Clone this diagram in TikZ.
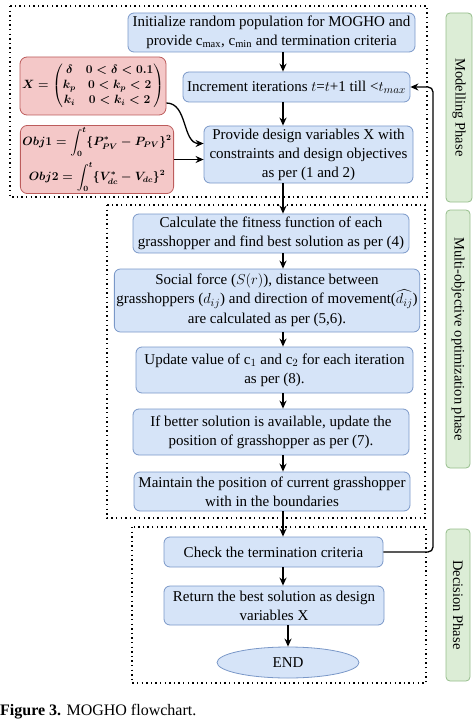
\documentclass[tikz,border=0pt]{standalone}
\usepackage{amsmath}
\usepackage{fontspec}
\setmainfont{Liberation Serif}
\usetikzlibrary{arrows.meta,shapes.geometric}
\definecolor{boxblue}{RGB}{214,228,248}
\definecolor{lineblue}{RGB}{122,152,200}
\definecolor{boxred}{RGB}{244,200,200}
\definecolor{linered}{RGB}{188,92,92}
\definecolor{boxgreen}{RGB}{220,237,214}
\definecolor{linegreen}{RGB}{150,190,140}

\begin{document}
\begin{tikzpicture}[
    x=1pt, y=-1pt,
    blk/.style={draw=lineblue, fill=boxblue, rounded corners=6pt,
                line width=0.8pt, align=center, inner sep=2pt,
                font=\fontsize{15}{19}\selectfont},
    eqbox/.style={draw=linered, fill=boxred, rounded corners=7pt,
                  line width=0.8pt, align=center, inner sep=2pt,
                  font=\fontsize{12}{15}\selectfont\boldmath},
    phase/.style={draw=linegreen, fill=boxgreen, rounded corners=4pt,
                  line width=0.8pt, rotate=-90, inner sep=1pt,
                  font=\fontsize{14.5}{16}\selectfont},
    frame/.style={line width=1.4pt, dash pattern=on 1.4pt off 3.2pt},
    flow/.style={line width=1.3pt, -{Stealth[length=8pt,width=7pt]}}
]
\useasboundingbox (0,0) rectangle (474,722);

% ---------- phase frames ----------
\draw[frame] (10,6) rectangle (427,197);
\draw[frame] (107,205) rectangle (425,518);
\draw[frame] (132,527) rectangle (426,683);

% ---------- phase tabs ----------
\node[phase, minimum width=189, minimum height=26] (tabM) at (459,107.5) {Modelling Phase};
\node[phase, minimum width=258, minimum height=24] (tabO) at (458,339) {Multi-objective optimization phase};
\node[phase, minimum width=152, minimum height=24] (tabD) at (458,605) {Decision Phase};

% ---------- modelling ----------
\node[blk, minimum width=287, minimum height=39] (init) at (271.5,32.5)
  {Initialize random population for MOGHO and\\provide c$_{\text{max}}$, c$_{\text{min}}$ and termination criteria};
\node[blk, minimum width=227, minimum height=30] (incr) at (296.5,87)
  {Increment iterations $t$=$t$+1 till <$t_{max}$};
\node[blk, minimum width=209, minimum height=57] (prov) at (308.5,154.5)
  {Provide design variables X with\\constraints and design objectives\\as per (1 and 2)};
\node[eqbox, minimum width=146, minimum height=58] (xvar) at (93,86)
  {$X=\begin{pmatrix} \delta & 0<\delta<0.1\\ k_p & 0<k_p<2\\ k_i & 0<k_i<2\end{pmatrix}$};
\node[eqbox, minimum width=142, minimum height=65] (obj) at (97,159.5)
  {$\displaystyle Obj1=\int_0^t\{P^*_{PV}-P_{PV}\}^2$\\[5pt]
   $\displaystyle Obj2=\int_0^t\{V^*_{dc}-V_{dc}\}^2$};

% ---------- optimization ----------
\node[blk, minimum width=276, minimum height=39] (calc) at (271,233.5)
  {Calculate the fitness function of each\\grasshopper and find best solution as per (4)};
\node[blk, minimum width=302, minimum height=63] (social) at (267,300.5)
  {Social force ($S(r)$), distance between\\grasshoppers ($d_{ij}$) and direction of movement($\widehat{d_{ij}}$)\\[1pt]are calculated as per (5,6).};
\node[blk, minimum width=277, minimum height=46] (upd) at (274.5,370)
  {Update value of c$_1$ and c$_2$ for each iteration\\as per (8).};
\node[blk, minimum width=276, minimum height=46] (better) at (271,432)
  {If better solution is available, update the\\position of grasshopper as per (7).};
\node[blk, minimum width=276, minimum height=39] (maint) at (272,491.5)
  {Maintain the position of current grasshopper\\with in the boundaries};

% ---------- decision ----------
\node[blk, minimum width=219, minimum height=30] (check) at (273.5,552)
  {Check the termination criteria};
\node[blk, minimum width=220, minimum height=39] (ret) at (274,605.5)
  {Return the best solution as design\\variables X};
\node[blk, ellipse, minimum width=142, minimum height=31, inner sep=0pt] (endn) at (288,662.5) {END};

% ---------- connectors ----------
\coordinate (axis) at (283,0);
\coordinate (fb) at (433,0);
\draw[flow] (init.south -| axis) -- (incr.north -| axis);
\draw[flow] (incr.south -| axis) -- (prov.north -| axis);
\draw[flow] (prov.south -| axis) -- (calc.north -| axis);
\draw[flow] (calc.south -| axis) -- (social.north -| axis);
\draw[flow] (social.south -| axis) -- (upd.north -| axis);
\draw[flow] (upd.south -| axis) -- (better.north -| axis);
\draw[flow] (better.south -| axis) -- (maint.north -| axis);
\draw[flow] (maint.south -| axis) -- (check.north -| axis);
\draw[flow] (check.south -| axis) -- (ret.north -| axis);
\draw[flow] (ret.south -| endn) -- (endn.north);
\draw[flow] ([yshift=-17pt]xvar.east) to[out=0, in=180] ([yshift=11pt]prov.west);
\draw[flow] (obj.east) -- (obj.east -| prov.west);
\draw[flow, rounded corners=5pt] (check.east) -- (check.east -| fb) -- (incr.east -| fb) -- (incr.east);

% ---------- caption ----------
\node[anchor=west, inner sep=0pt, font=\fontsize{16}{18}\selectfont] (cap) at (0,712)
  {\textbf{Figure 3.} MOGHO flowchart.};

\end{tikzpicture}
\end{document}
